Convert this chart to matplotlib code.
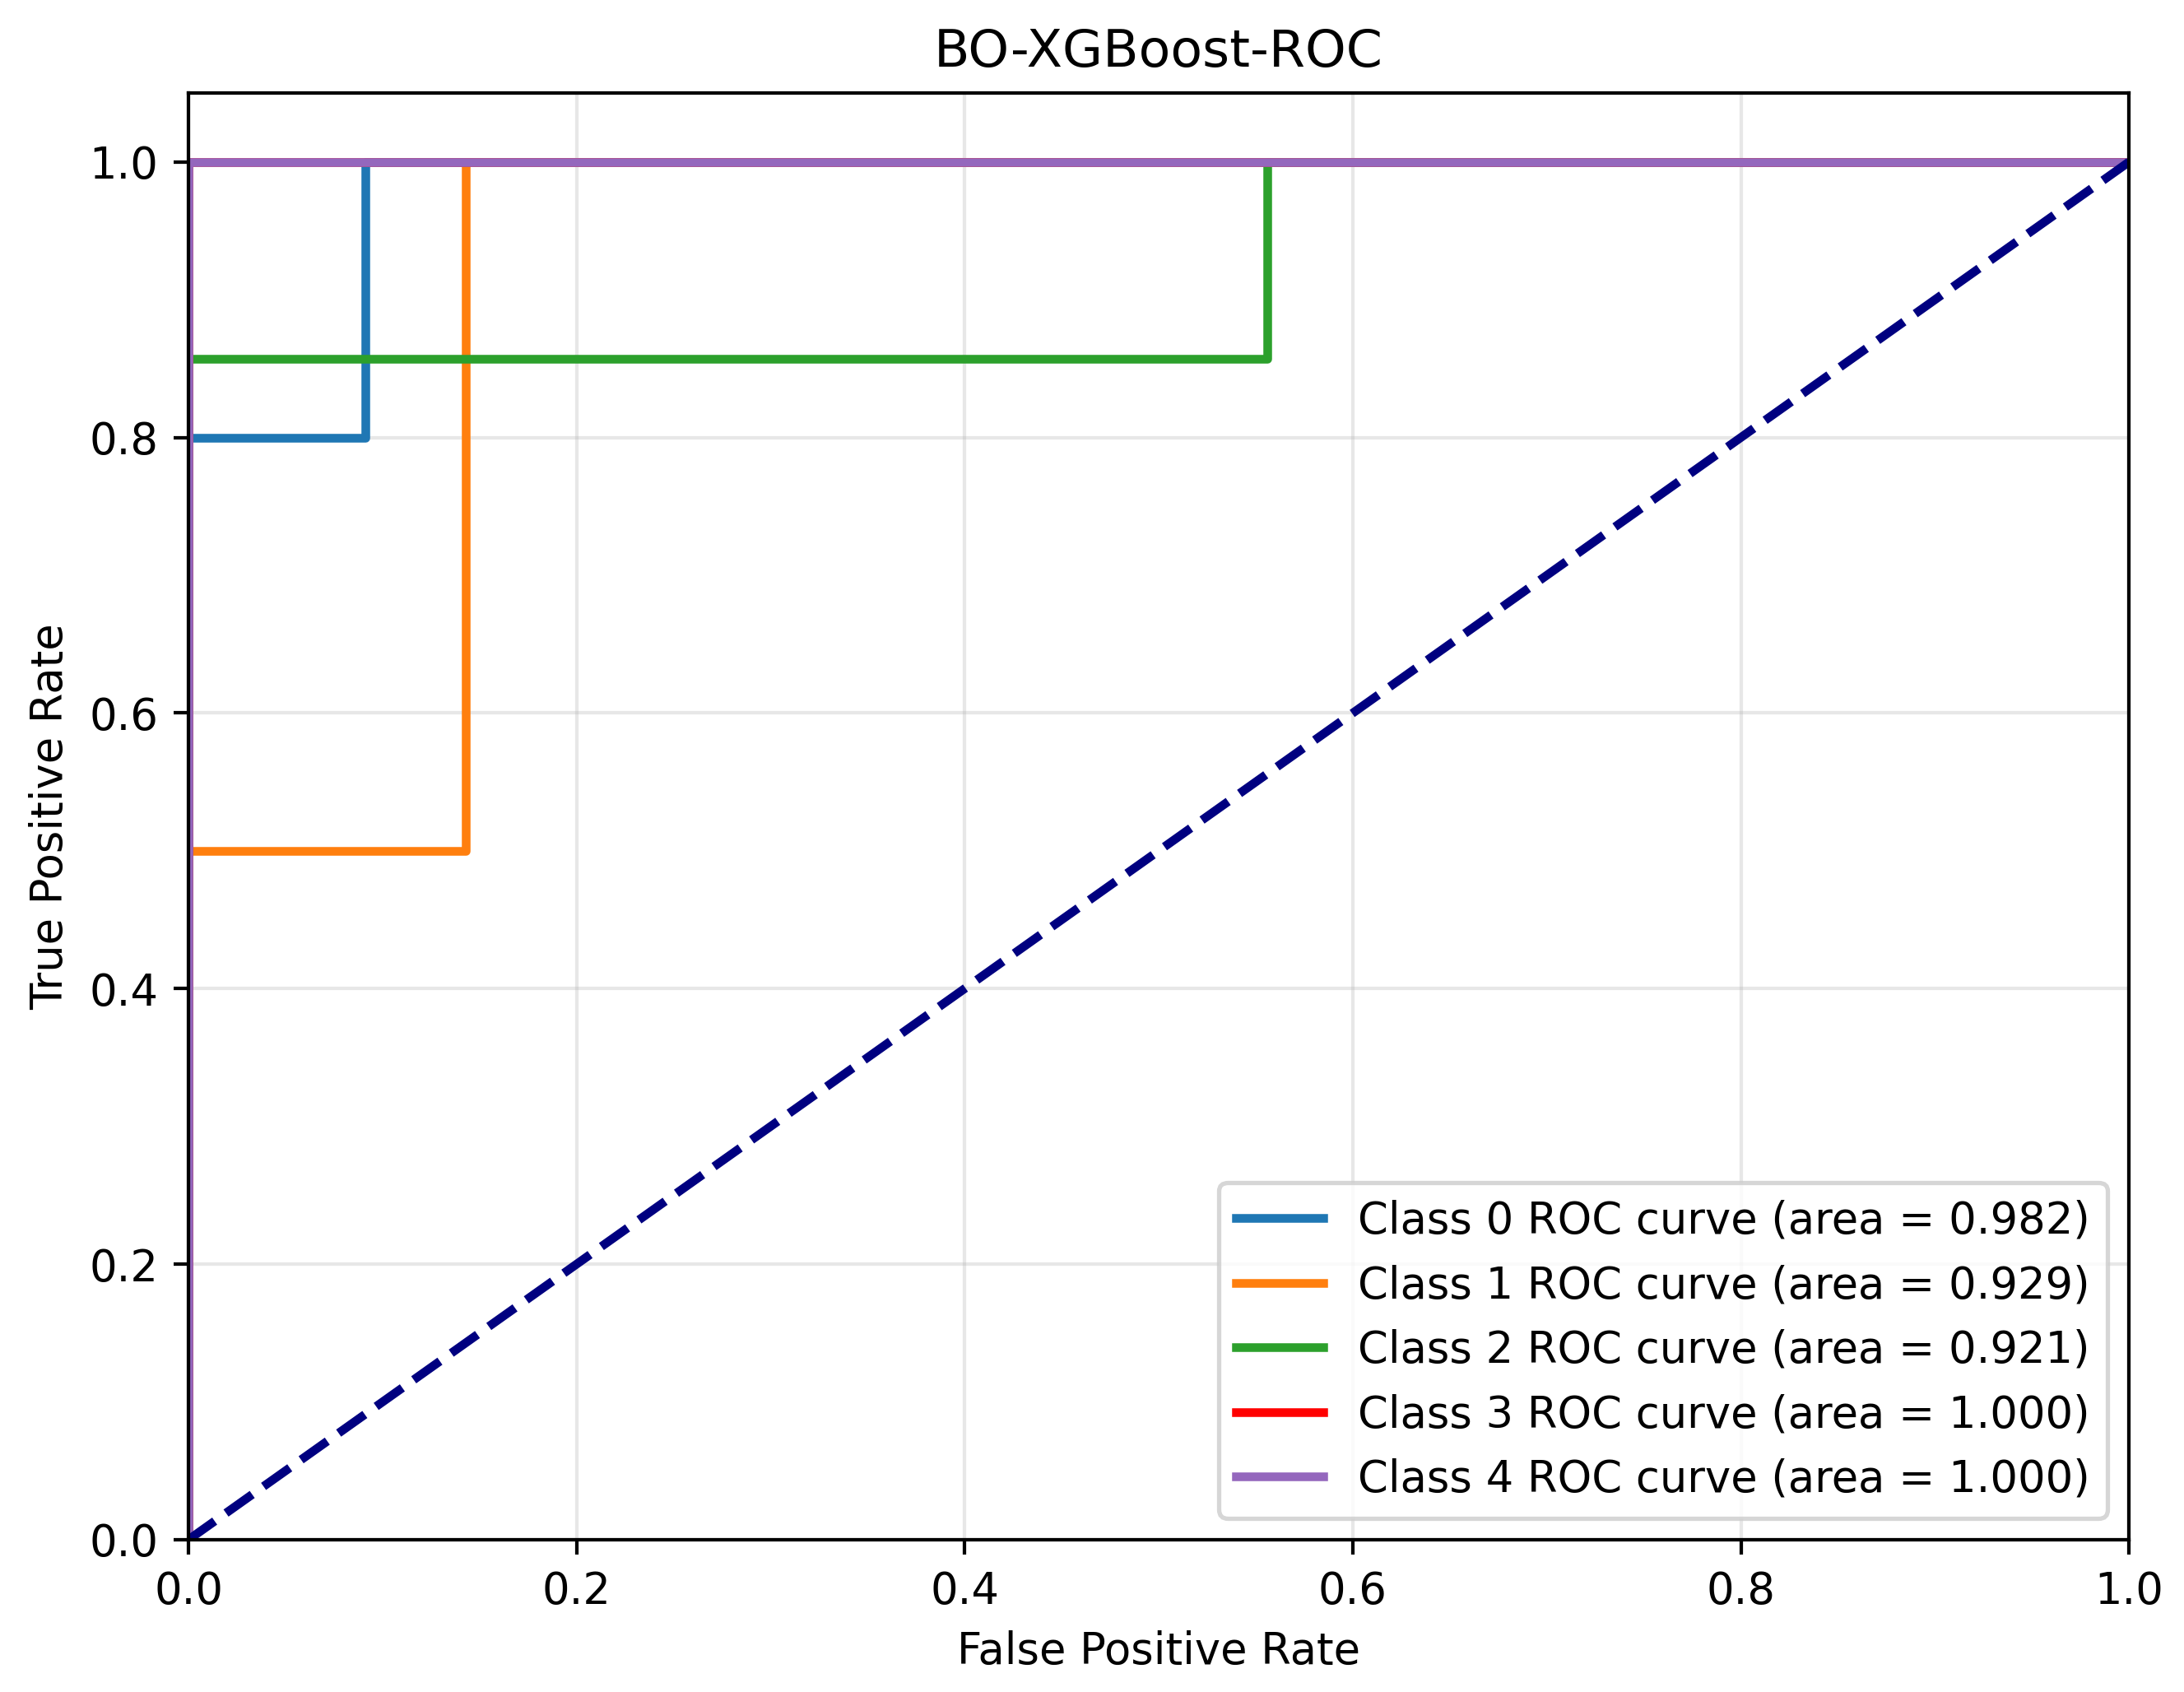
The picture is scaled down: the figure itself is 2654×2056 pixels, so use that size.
import matplotlib
matplotlib.use("Agg")
import matplotlib.pyplot as plt

#==[0] ROC data
class_names = ["Class 0", "Class 1", "Class 2", "Class 3", "Class 4"]
aucs = [0.982, 0.929, 0.921, 1.000, 1.000]
colors = ["tab:blue", "tab:orange", "tab:green", "red", "tab:purple"]

fpr0 = [0.0, 0.0, 0.091, 0.091, 1.0]
tpr0 = [0.0, 0.8, 0.8, 1.0, 1.0]
fpr1 = [0.0, 0.0, 0.143, 0.143, 1.0]
tpr1 = [0.0, 0.5, 0.5, 1.0, 1.0]
fpr2 = [0.0, 0.0, 0.556, 0.556, 1.0]
tpr2 = [0.0, 0.857, 0.857, 1.0, 1.0]
fpr3 = [0.0, 0.0, 1.0]
tpr3 = [0.0, 1.0, 1.0]
fpr4 = [0.0, 0.0, 1.0]
tpr4 = [0.0, 1.0, 1.0]

fprs = [fpr0, fpr1, fpr2, fpr3, fpr4]
tprs = [tpr0, tpr1, tpr2, tpr3, tpr4]

#==[1] Figure
dpi = 380
fig = plt.figure(figsize=(2654 / dpi, 2056 / dpi), dpi=dpi)
ax = fig.add_axes([0.0863, 0.0900, 0.8885, 0.8550])

for name, fpr, tpr, auc, col in zip(class_names, fprs, tprs, aucs, colors):
    ax.plot(fpr, tpr, color=col, lw=2,
            label=f"{name} ROC curve (area = {auc:.3f})")

ax.plot([0, 1], [0, 1], color="navy", lw=2, linestyle="--")

ax.set_xlim(0.0, 1.0)
ax.set_ylim(0.0, 1.05)
ax.set_xlabel("False Positive Rate")
ax.set_ylabel("True Positive Rate")
ax.set_title("BO-XGBoost-ROC")
ax.grid(True, alpha=0.3)
ax.legend(loc="lower right")

fig.savefig("out.png", dpi=dpi)
